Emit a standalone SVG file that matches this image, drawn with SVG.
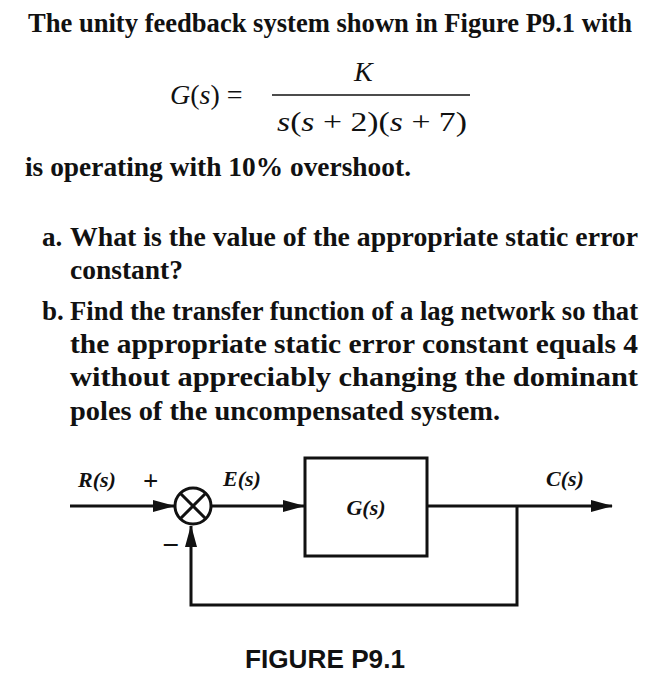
<svg xmlns="http://www.w3.org/2000/svg" width="665" height="695" viewBox="0 0 665 695">
<style>
.t{font-family:"Liberation Serif",serif;font-weight:bold;font-size:27px;fill:#111}
.m{font-family:"Liberation Serif",serif;font-size:28px;fill:#111}
.l{font-family:"Liberation Serif",serif;font-weight:bold;font-style:italic;font-size:22px;fill:#111}
.ln{stroke:#111;stroke-width:3;fill:none}
</style>
<defs><marker id="b" markerWidth="22" markerHeight="12" refX="21" refY="6" orient="auto" markerUnits="userSpaceOnUse"><path d="M0,0L22,6L0,12z" fill="#111"/></marker></defs>
<rect width="665" height="695" fill="#fff"/>
<text class="t" x="28" y="32" textLength="604" lengthAdjust="spacingAndGlyphs">The unity feedback system shown in Figure P9.1 with</text>
<text class="m" x="170" y="104"><tspan font-style="italic">G</tspan>(<tspan font-style="italic">s</tspan>) =</text>
<text class="m" x="354" y="81" font-style="italic">K</text>
<line x1="272" y1="95" x2="470" y2="95" stroke="#111" stroke-width="1.5"/>
<text class="m" x="277" y="131" textLength="190" lengthAdjust="spacingAndGlyphs"><tspan font-style="italic">s</tspan>(<tspan font-style="italic">s</tspan> + 2)(<tspan font-style="italic">s</tspan> + 7)</text>
<text class="t" x="25" y="176" textLength="386" lengthAdjust="spacingAndGlyphs">is operating with 10% overshoot.</text>
<text class="t" x="42" y="246">a.</text>
<text class="t" x="70" y="246" textLength="568" lengthAdjust="spacingAndGlyphs">What is the value of the appropriate static error</text>
<text class="t" x="70" y="279" textLength="113" lengthAdjust="spacingAndGlyphs">constant?</text>
<text class="t" x="42" y="320">b.</text>
<text class="t" x="70" y="320" textLength="568" lengthAdjust="spacingAndGlyphs">Find the transfer function of a lag network so that</text>
<text class="t" x="70" y="353" textLength="568" lengthAdjust="spacingAndGlyphs">the appropriate static error constant equals 4</text>
<text class="t" x="70" y="386" textLength="568" lengthAdjust="spacingAndGlyphs">without appreciably changing the dominant</text>
<text class="t" x="70" y="420" textLength="430" lengthAdjust="spacingAndGlyphs">poles of the uncompensated system.</text>
<g id="connectors">
<path class="ln" d="M70,506H174" marker-end="url(#b)"/>
<path class="ln" d="M212,506H304" marker-end="url(#b)"/>
<path class="ln" d="M427,506H612" marker-end="url(#b)"/>
<path class="ln" d="M517,506V605H191V526" marker-end="url(#b)"/>
</g>
<g id="sum"><circle class="ln" cx="193" cy="506" r="18"/><path class="ln" d="M180,493L206,519M206,493L180,519" stroke-width="2.5"/></g>
<g id="G"><rect class="ln" x="305" y="458" width="122" height="98"/><text class="l" x="366" y="515" text-anchor="middle">G(s)</text></g>
<text class="l" x="78" y="487">R(s)</text>
<text class="l" x="143" y="490" style="font-style:normal;font-size:27px">+</text>
<text class="l" x="164" y="551" style="font-style:normal;font-size:27px">–</text>
<text class="l" x="223" y="486">E(s)</text>
<text class="l" x="546" y="486">C(s)</text>
<text x="245" y="668" font-family="Liberation Sans,sans-serif" font-weight="bold" font-size="25" fill="#111" textLength="160" lengthAdjust="spacingAndGlyphs">FIGURE P9.1</text>
</svg>
